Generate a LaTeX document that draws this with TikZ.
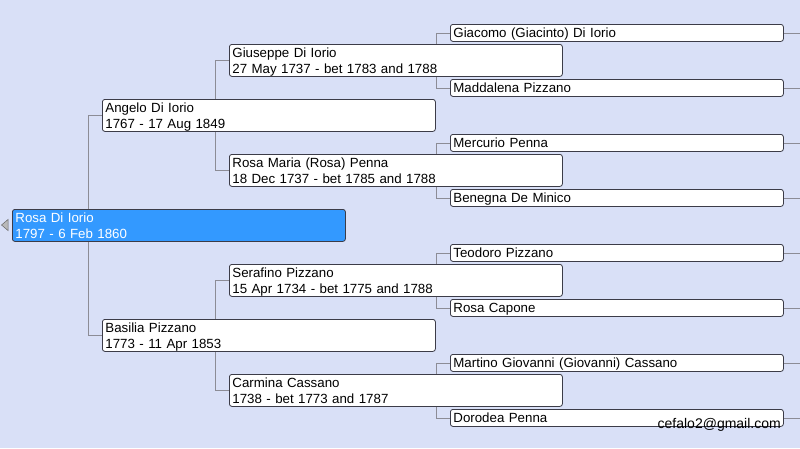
\documentclass[tikz,border=0pt]{standalone}
\usepackage{fontspec}
\setmainfont{Liberation Sans}
\pgfdeclarelayer{bg}
\pgfsetlayers{bg,main}
\definecolor{bgcol}{RGB}{217,224,247}
\definecolor{boxline}{RGB}{60,60,72}
\definecolor{rootfill}{RGB}{51,153,255}
\definecolor{conn}{RGB}{140,140,150}
\tikzset{
  pbox/.style={draw=boxline, fill=white, line width=0.8pt, rounded corners=2.5pt,
    anchor=north west, inner xsep=3pt, inner ysep=0pt, align=left,
    text width=327pt, font=\fontsize{13.3}{15.5}\selectfont,
    text height=9.7pt, text depth=15.5pt, minimum height=32pt},
  sbox/.style={pbox, text depth=0.6pt, minimum height=17pt},
  rootbox/.style={pbox, fill=rootfill, text=white},
  link/.style={draw=conn, line width=0.8pt}
}
\begin{document}
\begin{tikzpicture}[x=1pt,y=-1pt]
\useasboundingbox (0,0) rectangle (800,448);
\coordinate (R) at (800,0);
% root
\node[rootbox] (rosa) at (12,209) {Rosa Di Iorio\\1797 - 6 Feb 1860};
% generation 1
\node[pbox] (angelo) at (102,99) {Angelo Di Iorio\\1767 - 17 Aug 1849};
\node[pbox] (basilia) at (102,319) {Basilia Pizzano\\1773 - 11 Apr 1853};
% generation 2
\node[pbox] (giuseppe) at (229,44) {Giuseppe Di Iorio\\27 May 1737 - bet 1783 and 1788};
\node[pbox] (rosamaria) at (229,154) {Rosa Maria (Rosa) Penna\\18 Dec 1737 - bet 1785 and 1788};
\node[pbox] (serafino) at (229,264) {Serafino Pizzano\\15 Apr 1734 - bet 1775 and 1788};
\node[pbox] (carmina) at (229,374) {Carmina Cassano\\1738 - bet 1773 and 1787};
% generation 3
\node[sbox] (giacomo) at (450,24) {Giacomo (Giacinto) Di Iorio};
\node[sbox] (maddalena) at (450,79) {Maddalena Pizzano};
\node[sbox] (mercurio) at (450,134) {Mercurio Penna};
\node[sbox] (benegna) at (450,189) {Benegna De Minico};
\node[sbox] (teodoro) at (450,244) {Teodoro Pizzano};
\node[sbox] (capone) at (450,299) {Rosa Capone};
\node[sbox] (martino) at (450,354) {Martino Giovanni (Giovanni) Cassano};
\node[sbox] (dorodea) at (450,409) {Dorodea Penna};
% collapse arrow
\filldraw[fill=gray!55, draw=gray!80!black, line width=0.5pt] (1.5,225) -- (8,219.5) -- (8,230.5) -- cycle;
% email
\node[anchor=base east, inner sep=0pt, font=\fontsize{14}{16}\selectfont] (mail) at (781,428) {cefalo2@gmail.com};
\begin{pgfonlayer}{bg}
\fill[bgcol] (0,0) rectangle (800,448);
\draw[link] (angelo.west) -- ++(-14,0) |- (basilia.west);
\draw[link] (giuseppe.west) -- ++(-14,0) |- (rosamaria.west);
\draw[link] (serafino.west) -- ++(-14,0) |- (carmina.west);
\draw[link] (giacomo.west) -- ++(-14,0) |- (maddalena.west);
\draw[link] (mercurio.west) -- ++(-14,0) |- (benegna.west);
\draw[link] (teodoro.west) -- ++(-14,0) |- (capone.west);
\draw[link] (martino.west) -- ++(-14,0) |- (dorodea.west);
\foreach \n in {giacomo,maddalena,mercurio,benegna,teodoro,capone,martino,dorodea}
  \draw[link] (\n.east) -- (\n.east -| R);
\end{pgfonlayer}
\end{tikzpicture}
\end{document}
